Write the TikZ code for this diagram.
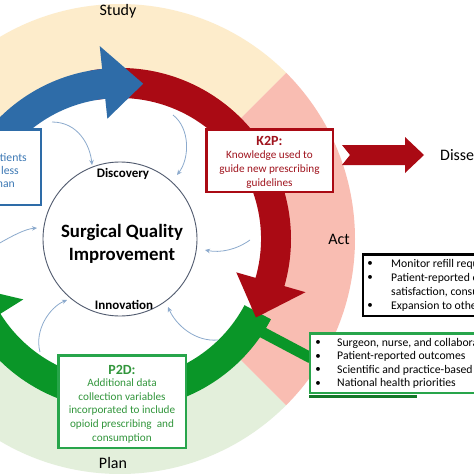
\documentclass[tikz,border=0pt]{standalone}
\usepackage{fontspec}
\setmainfont{Carlito}
\usetikzlibrary{arrows.meta}
\definecolor{studybg}{RGB}{253,236,203}
\definecolor{dobg}{RGB}{222,235,247}
\definecolor{planbg}{RGB}{227,239,219}
\definecolor{actbg}{RGB}{249,189,178}
\definecolor{bluearr}{RGB}{46,108,168}
\definecolor{redarr}{RGB}{170,10,20}
\definecolor{greenarr}{RGB}{10,150,40}
\definecolor{redtxt}{RGB}{160,20,30}
\definecolor{greentxt}{RGB}{50,150,60}
\definecolor{greenbox}{RGB}{40,165,75}
\definecolor{darkgreen}{RGB}{20,120,40}
\definecolor{bluetxt}{RGB}{60,120,180}
\definecolor{smallarr}{RGB}{140,170,205}
\definecolor{circ}{RGB}{80,90,110}
\begin{document}
\begin{tikzpicture}[x=1pt,y=1pt,
  lbl/.style={font=\fontsize{16}{19}\selectfont, inner sep=0pt},
  boxbody/.style={font=\fontsize{11.2}{13.6}\selectfont, align=center, inner sep=0pt},
  boxtitle/.style={font=\bfseries\fontsize{14}{15}\selectfont, inner sep=0pt},
  framebox/.style={line width=2.5pt, fill=white, inner sep=0pt},
  thinarr/.style={draw=smallarr, line width=0.8pt, -{Stealth[length=5pt,width=4.5pt]}},
  bul/.style={font=\fontsize{11.7}{13.5}\selectfont, anchor=west, inner sep=0pt},
  bulmark/.style={font=\fontsize{11}{13.5}\selectfont, inner sep=0pt},
  coretext/.style={font=\bfseries\fontsize{13}{15}\selectfont, inner sep=0pt},
]
\useasboundingbox (0,0) rectangle (474,-474);
\clip (0,0) rectangle (474,-474);
\fill[white] (0,0) rectangle (474,-474);
\coordinate (C) at (120,-239);
\begin{scope}[shift={(C)}]
 \fill[studybg] (45:235) arc[start angle=45,end angle=135,radius=235] -- (135:148) arc[start angle=135,end angle=45,radius=148] -- cycle;
 \fill[dobg] (135:235) arc[start angle=135,end angle=225,radius=235] -- (225:148) arc[start angle=225,end angle=135,radius=148] -- cycle;
 \fill[planbg] (225:235) arc[start angle=225,end angle=315,radius=235] -- (315:148) arc[start angle=315,end angle=225,radius=148] -- cycle;
 \fill[actbg] (-45:235) arc[start angle=-45,end angle=45,radius=235] -- (45:148) arc[start angle=45,end angle=-45,radius=148] -- cycle;
 % green arrow
 \fill[greenarr] (-28:171) arc[start angle=-28,end angle=-148,radius=171] -- (-148:198) -- (-162:156) -- (-148:114) -- (-148:141) arc[start angle=-148,end angle=-28,radius=141] -- cycle;
 % red arrow
 \fill[redarr] (100:171) arc[start angle=100,end angle=-16,radius=171] -- (-16:193) -- (-30:157) -- (-16:121) -- (-16:141) arc[start angle=-16,end angle=100,radius=141] -- cycle;
 % blue arrow
 \fill[bluearr] (185:171) arc[start angle=185,end angle=96,radius=171] -- (96:194) -- (81.5:157) -- (96:121) -- (96:141) arc[start angle=96,end angle=185,radius=141] -- cycle;
\end{scope}

% core circle
\node[circle, draw=circ, line width=0.9pt, minimum size=154pt, inner sep=0pt] (core) at (C) {};
\node[coretext] (disc) at (123,-174) {Discovery};
\node[coretext] (innov) at (124,-305) {Innovation};
\node[font=\bfseries\fontsize{18.8}{23}\selectfont, align=center, inner sep=0pt] (sqi) at (122,-243.5) {Surgical Quality\\Improvement};

% thin arrows
\coordinate (s1) at (52,-122); \coordinate (e1) at (92,-165);
\coordinate (s2) at (173,-115); \coordinate (e2) at (177,-175);
\coordinate (s3) at (-2,-244); \coordinate (e3) at (37,-228);
\coordinate (s4) at (250,-240); \coordinate (e4) at (205,-250);
\coordinate (s5) at (40,-352); \coordinate (e5) at (67,-300);
\coordinate (s6) at (218,-340); \coordinate (e6) at (168,-307);
\draw[thinarr] (s1) .. controls (78,-122) and (90,-145) .. (e1);
\draw[thinarr] (s2) .. controls (190,-128) and (190,-158) .. (e2);
\draw[thinarr] (s3) .. controls (12,-236) and (25,-229) .. (e3);
\draw[thinarr] (s4) .. controls (236,-250) and (220,-253) .. (e4);
\draw[thinarr] (s5) .. controls (34,-330) and (50,-307) .. (e5);
\draw[thinarr] (s6) .. controls (195,-342) and (176,-325) .. (e6);

% green connector
\coordinate (gsrc) at (243,-322);
\coordinate (gend) at (311,-358);
\draw[greenarr, line width=11pt] (gsrc) -- (gend);

% dissemination arrow
\fill[redarr] (342,-145) -- (405,-145) -- (405,-137) -- (424,-155) -- (405,-173) -- (405,-165) -- (342,-165) -- (350,-155) -- cycle;
\node[lbl, anchor=west] (diss) at (440,-155) {Dissemination};

% labels
\node[lbl] (study) at (118,-11) {Study};
\node[lbl] (plan) at (113,-463) {Plan};
\node[lbl] (act) at (339,-239) {Act};

% blue box
\node[framebox, draw=bluearr, minimum width=120.75pt, minimum height=75.5pt] (bbox) at (-19.6,-167) {};
\node[bul, anchor=east, text=bluetxt] (bb1) at (27,-157) {Patients};
\node[bul, anchor=east, text=bluetxt] (bb2) at (19,-170.5) {used less};
\node[bul, anchor=east, text=bluetxt] (bb3) at (15,-184) {opioid than};

% K2P box
\node[framebox, draw=redarr, minimum width=126.5pt, minimum height=62.5pt] (k2p) at (269.5,-160.5) {};
\node[boxtitle, text=redtxt] (k2pt) at (269.5,-141) {K2P:};
\node[boxbody, text=redtxt] (k2pb) at (269.5,-169.5) {Knowledge used to\\guide new prescribing\\guidelines};

% P2D box
\node[framebox, draw=greenbox, minimum width=127.5pt, minimum height=92.5pt] (p2d) at (122,-401.5) {};
\node[boxtitle, text=greentxt] (p2dt) at (122,-369.5) {P2D:};
\node[boxbody, text=greentxt] (p2db) at (122,-411) {Additional data\\collection variables\\incorporated to include\\opioid prescribing\ \ and\\consumption};

% black box
\node[framebox, draw=black, minimum width=196.75pt, minimum height=61.5pt] (kbox) at (461.6,-285) {};
\node[bulmark] (kb1) at (370,-264) {•};
\node[bulmark] (kb2) at (370,-278) {•};
\node[bulmark] (kb4) at (370,-306) {•};
\node[bul] (kt1) at (391,-264) {Monitor refill requests};
\node[bul] (kt2) at (391,-278) {Patient-reported outcomes: pain,};
\node[bul] (kt3) at (391,-292) {satisfaction, consumption};
\node[bul] (kt4) at (391,-306) {Expansion to other procedures};

% green box
\coordinate (gsh1) at (309,-396.5);
\coordinate (gsh2) at (417,-396.5);
\draw[darkgreen, line width=3pt] (gsh1) -- (gsh2);
\node[framebox, draw=greenbox, minimum width=249.75pt, minimum height=59.5pt] (gbox) at (435.1,-363) {};
\node[bulmark] (gb1) at (318,-343) {•};
\node[bulmark] (gb2) at (318,-356.5) {•};
\node[bulmark] (gb3) at (318,-370) {•};
\node[bulmark] (gb4) at (318,-383.5) {•};
\node[bul] (gt1) at (337,-343) {Surgeon, nurse, and collaborator input};
\node[bul] (gt2) at (337,-356.5) {Patient-reported outcomes};
\node[bul] (gt3) at (337,-370) {Scientific and practice-based research};
\node[bul] (gt4) at (337,-383.5) {National health priorities};
\end{tikzpicture}
\end{document}
